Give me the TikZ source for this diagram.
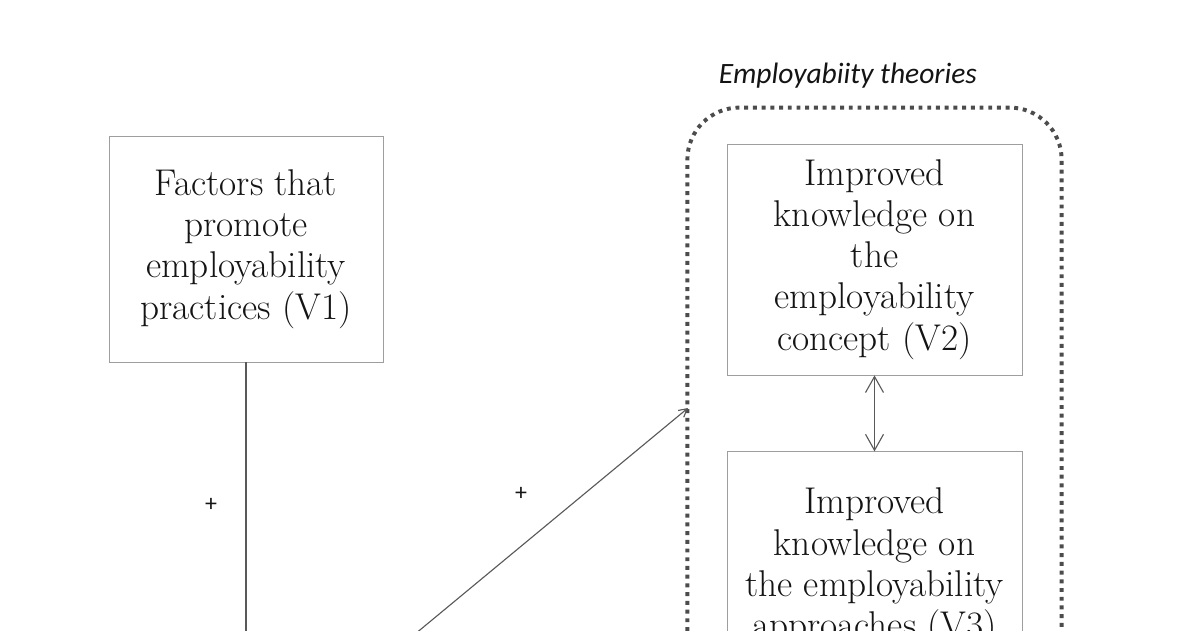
\documentclass[tikz,border=0pt]{standalone}
\usepackage{fontspec}
\newfontfamily\labelfont{Carlito}
\usepackage{tikz}
\usetikzlibrary{arrows.meta,positioning,fit}
\definecolor{boxgray}{gray}{0.62}
\definecolor{linegray}{gray}{0.35}
\definecolor{dotgray}{gray}{0.3}
\definecolor{textgray}{gray}{0.08}

\begin{document}
\begin{tikzpicture}[
    varbox/.style={draw=boxgray, line width=0.6pt, align=center, text=textgray,
      minimum width=7.375cm, minimum height=5.775cm, font=\fontsize{26.5}{29.3}\selectfont},
    link/.style={draw=linegray, line width=0.8pt},
    theorybox/.style={draw=dotgray, line width=2.8pt, dash pattern=on 2.8pt off 3.4pt,
      rounded corners=1.3cm, inner xsep=0.98cm, inner ysep=0.9cm},
    plus/.style={text=textgray, font=\labelfont\fontsize{17}{19}\selectfont}]
  \useasboundingbox (0,0) rectangle (30,15.75);

  \node[varbox, minimum width=6.85cm, minimum height=5.65cm] (factors) at (6.15, 9.525)
    {Factors that\\promote\\employability\\practices (V1)};
  \node[varbox] (concept) at (21.8625, 9.2625)
    {Improved\\knowledge on\\the\\employability\\concept (V2)};
  \node[varbox, below=1.9cm of concept] (approach)
    {Improved\\knowledge on\\the employability\\approaches (V3)};

  \node[theorybox, fit=(concept)(approach)] (theories) {};
  \node[text=textgray, font=\labelfont\itshape\fontsize{21}{24}\selectfont] (title) at (21.2, 13.85)
    {Employabiity theories};

  \draw[link, {Straight Barb[length=0.4cm,width=0.45cm]}-{Straight Barb[length=0.4cm,width=0.45cm]}]
    (concept) -- (approach);

  % lines leaving the page
  \coordinate (downA) at (6.15,-1);
  \coordinate (downB) at (9.29,-1);
  \coordinate (entry) at (17.2,5.55);
  \draw[link] (factors) -- (downA);
  \draw[link, -{Straight Barb[length=0.2cm,width=0.22cm]}] (downB) -- (entry);

  \node[plus] (plusA) at (5.275,3.125) {+};
  \node[plus] (plusB) at (13.025,3.4) {+};
\end{tikzpicture}
\end{document}
